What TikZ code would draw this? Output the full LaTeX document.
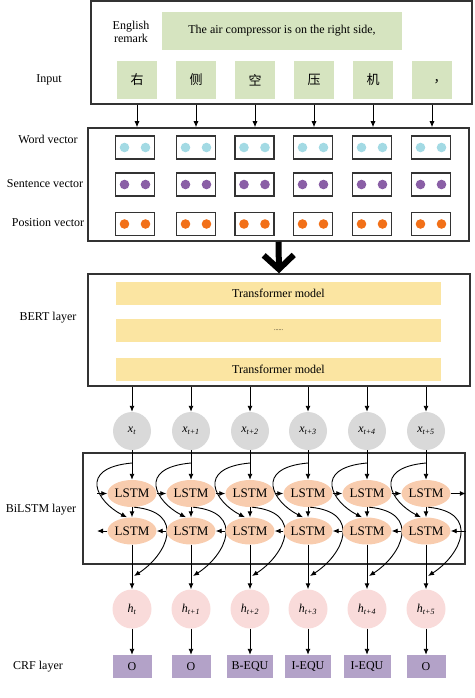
\documentclass[tikz,border=0pt]{standalone}
\usepackage{fontspec}
\setmainfont{Liberation Serif}
\newfontfamily\cjk{Noto Sans CJK SC}
\usetikzlibrary{arrows.meta,shapes.geometric,calc}
\definecolor{boxc}{HTML}{333333}
\definecolor{greenc}{HTML}{D6E4C0}
\definecolor{bluec}{HTML}{A3DAE4}
\definecolor{purpc}{HTML}{8A5FA6}
\definecolor{orangec}{HTML}{F27018}
\definecolor{yellowc}{HTML}{FBE5A2}
\definecolor{greyc}{HTML}{D9D9D9}
\definecolor{lstmc}{HTML}{F8CCAE}
\definecolor{pinkc}{HTML}{F9DBDA}
\definecolor{crfc}{HTML}{B3A2C8}
\newcommand{\mycomma}{\rlap{\kern 8pt\raisebox{-4pt}{，}}\phantom{，}}
\begin{document}
\begin{tikzpicture}[x=1pt,y=-1pt,font=\fontsize{12}{13.5}\selectfont,
  bigbox/.style={draw=boxc,line width=1.5pt,inner sep=0},
  grn/.style={fill=greenc,inner sep=0,minimum width=40pt,minimum height=38pt,font=\cjk\fontsize{13}{14}\selectfont},
  vbox/.style={draw=boxc,line width=1.1pt,minimum width=39pt,minimum height=23pt,inner sep=0},
  bar/.style={fill=yellowc,minimum width=325pt,minimum height=23pt,inner sep=0},
  arr/.style={-{Latex[length=6pt,width=5pt]},line width=0.9pt},
  lstm/.style={ellipse,fill=lstmc,minimum width=44pt,minimum height=27pt,inner sep=0,font=\fontsize{13}{15}\selectfont},
  xc/.style={circle,fill=greyc,minimum size=38pt,inner sep=0},
  hc/.style={circle,fill=pinkc,minimum size=39pt,inner sep=0},
  crf/.style={fill=crfc,minimum height=23pt,inner sep=0},
  lbl/.style={align=center,inner sep=0}]
\useasboundingbox (0,0) rectangle (474,698);

% ---------- Input box ----------
\node[bigbox,minimum width=381pt,minimum height=103pt] (inp) at (281.5,52.5) {};
\node[lbl] (inl) at (49,80) {Input};
\node[lbl] (eng) at (131,32) {English\\remark};
\node[fill=greenc,minimum width=240pt,minimum height=38pt,inner sep=0] (rem) at (282,31) {The air compressor is on the right side,};
\foreach \X/\ch [count=\i] in {137/右,196/侧,255/空,314/压,373/机,432/\mycomma}
  \node[grn] (c\i) at (\X,80) {\ch};

% ---------- Embedding box ----------
\node[bigbox,minimum width=381pt,minimum height=113pt] (emb) at (278.5,184.5) {};
\foreach \i in {1,...,6}
  \draw[arr] (inp.south -| c\i) -- (emb.north -| c\i);
\node[lbl] (wl) at (48,139) {Word vector};
\node[lbl] (sl) at (45,184) {Sentence vector};
\node[lbl] (pl) at (48,223) {Position vector};
\foreach \X [count=\i] in {135,196,254.5,313,372,431} {
  \node[vbox] (w\i) at (\X,147.5) {};
  \node[vbox] (s\i) at (\X,184.5) {};
  \node[vbox] (p\i) at (\X,224) {};
  \fill[bluec] (\X-10.5,147.5) circle (4.8) (\X+10.5,147.5) circle (4.8);
  \fill[purpc] (\X-10.5,184.5) circle (4.8) (\X+10.5,184.5) circle (4.8);
  \fill[orangec] (\X-10.5,224) circle (4.8) (\X+10.5,224) circle (4.8);
}

% ---------- BERT ----------
\node[bigbox,minimum width=382pt,minimum height=112pt] (bert) at (279,330) {};
\draw[line width=6pt,-{Straight Barb[length=14pt,width=30pt,line width=6pt]}] (emb.south) -- (bert.north);
\node[lbl] (bl) at (48,318) {BERT layer};
\node[bar] (tf1) at (278.5,293.5) {Transformer model};
\node[bar,font=\fontsize{6}{7}\selectfont] (tf2) at (278.5,330.5) {......};
\node[bar] (tf3) at (278.5,369.5) {Transformer model};

% ---------- BiLSTM ----------
\node[bigbox,minimum width=382pt,minimum height=111pt] (bil) at (274,508.5) {};
\node[lbl] (bll) at (41,510) {BiLSTM layer};
\node[lbl] (cl) at (38,667) {CRF layer};
\coordinate (uin) at (97,493.5);
\coordinate (lout) at (97,531);

\foreach \X/\s/\w/\lab [count=\i] in {132/t/39/O,191/t+1/39/O,250/t+2/46/B-EQU,308/t+3/46/I-EQU,367/t+4/47/I-EQU,426/t+5/39/O} {
  \node[xc] (x\i) at (\X,431) {{\itshape x}\textsubscript{\itshape\s}};
  \node[lstm] (u\i) at (\X,493.5) {LSTM};
  \node[lstm] (l\i) at (\X,531) {LSTM};
  \node[hc] (h\i) at (\X,609) {{\itshape h}\textsubscript{\itshape\s}};
  \node[crf,minimum width=\w pt] (r\i) at (\X,666.5) {\lab};
  \coordinate (ka\i) at (\X,463);
  \coordinate (kb\i) at (\X+2,576);
  \draw[arr] (bert.south -| x\i) -- (x\i.north);
  \draw[arr] (x\i.south) -- (u\i.north);
  \draw[arr] (u\i.south) -- (l\i.north);
  \draw[arr] (l\i.south) -- (h\i.north);
  \draw[arr] (h\i.south) -- (r\i.north);
  \draw[arr] (ka\i) .. controls (\X-55,468) and (\X-35,502) .. ([xshift=-5pt]l\i.north);
  \draw[arr] ([xshift=2pt]u\i.south) .. controls (\X+55,512) and (\X+35,555) .. (kb\i);
}
\draw[arr] (uin) -- (u1.west);
\foreach \i [count=\j from 2] in {1,...,5} {
  \draw[arr] (u\i.east) -- (u\j.west);
  \draw[arr] (l\j.west) -- (l\i.east);
}
\draw[arr] (u6.east) -- (bil.east |- u6);
\draw[arr] (bil.east |- l6) -- (l6.east);
\draw[arr] (l1.west) -- (lout);
\end{tikzpicture}
\end{document}
